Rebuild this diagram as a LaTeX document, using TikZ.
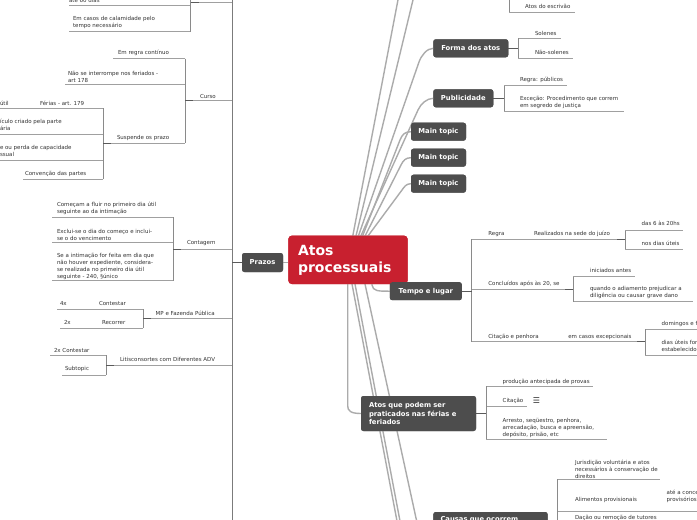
\documentclass[tikz,border=0pt]{standalone}
\usepackage{fontspec}
\setmainfont{DejaVu Sans}
\usetikzlibrary{calc}
\definecolor{boxgray}{HTML}{4D4D4D}
\definecolor{rootred}{HTML}{C8202F}
\definecolor{linegray}{HTML}{ABABAB}
\definecolor{ulgray}{HTML}{A0A0A0}
\definecolor{brkgray}{HTML}{8A8A8A}
\definecolor{darkln}{HTML}{5A5A5A}
\definecolor{txtcol}{HTML}{333333}
\tikzset{
  every node/.style={inner sep=0pt, outer sep=0pt},
  subtxt/.style={anchor=west, align=left, font=\fontsize{5.5}{7}\selectfont, text=txtcol},
  ul/.style={draw=ulgray, line width=0.6pt},
  brk/.style={draw=brkgray, line width=0.6pt},
  conn/.style={draw=darkln, line width=1pt},
  trunk/.style={draw=darkln!80, line width=0.9pt},
  mainln/.style={draw=linegray, line width=1.4pt},
  topic/.style={fill=boxgray, text=white, rounded corners=2.5pt,
    font=\fontsize{6.8}{8.6}\selectfont\bfseries, minimum height=18pt},
  rootbox/.style={fill=rootred, text=white, rounded corners=3.5pt,
    font=\fontsize{14}{17}\selectfont\bfseries, minimum width=119.4pt,
    minimum height=48.3pt, align=left, text width=100pt},
  noteicon/.style={font=\fontsize{8}{8}\selectfont, text=txtcol}
}
\newcommand\mmsub[7]{%
  \node[subtxt] (#1) at (#2,#3) {#4};
  \coordinate (#1-a) at (#5,#7);
  \coordinate (#1-b) at (#6,#7);
  \draw[ul] (#1-a) -- (#1-b);
}
\begin{document}
\begin{tikzpicture}[x=1pt,y=-1pt]
\useasboundingbox (0,0) rectangle (697,520);
\clip (0,0) rectangle (697,520);
\fill[white] (0,0) rectangle (697,520);

% ---------- nodes of the first level (placed first, drawn later on top) ----------
\path (348,259.85) node[rootbox] (root) {Atos\\processuais};
\path (262.5,262.5) node[topic, minimum width=41pt, minimum height=19pt] (prazos) {Prazos};
\path (470.8,48.3) node[topic, minimum width=75pt] (forma) {Forma dos atos};
\path (463.3,98.3) node[topic, minimum width=60pt] (publ) {Publicidade};
\path (438.5,131.7) node[topic, minimum width=55pt] (main1) {Main topic};
\path (438.5,157.7) node[topic, minimum width=55pt] (main2) {Main topic};
\path (438.5,183.7) node[topic, minimum width=55pt] (main3) {Main topic};
\path (425.8,291.2) node[topic, minimum width=72pt] (tempo) {Tempo e lugar};
\path (418.5,413.5) node[topic, minimum width=115pt, minimum height=35pt, text width=99pt, align=left] (atos) {Atos que podem ser\\praticados nas férias e\\feriados};
\path (433.3,512) node[topic, anchor=north west, minimum width=114.4pt, text width=100pt, align=left, text height=5pt, text depth=22pt, inner ysep=4pt] (causas) {Causas que ocorrem};

% ---------- connectors of the first level ----------
\begin{scope}[on background layer/.style={}]
\coordinate (u1s) at (352,240); \coordinate (u1e) at (401.8,-20);
\coordinate (u2s) at (355,240); \coordinate (u2e) at (417.8,-20);
\draw[mainln] (u1s) -- (u1e);
\draw[mainln] (u2s) -- (u2e);
\coordinate (fs) at (357,240); \coordinate (fp) at (419,62);
\draw[mainln] (fs) -- (fp) .. controls (421.3,55.4) and (427,48.3) .. (forma.west);
\coordinate (ps) at (359,240); \coordinate (pp) at (418,110);
\draw[mainln] (ps) -- (pp) .. controls (420.9,103.6) and (427,98.3) .. (publ.west);
\coordinate (m1s) at (361,240); \coordinate (m1p) at (400,140);
\draw[mainln] (m1s) -- (m1p) .. controls (402.2,134.4) and (405,131.7) .. (main1.west);
\coordinate (m2s) at (363,240); \coordinate (m2p) at (401,165);
\draw[mainln] (m2s) -- (m2p) .. controls (403.3,160.5) and (405.5,157.7) .. (main2.west);
\coordinate (m3s) at (365,240); \coordinate (m3p) at (402,190);
\draw[mainln] (m3s) -- (m3p) .. controls (404.4,186.8) and (406,183.7) .. (main3.west);
\coordinate (ts) at (372,278); \coordinate (tp) at (372,285);
\draw[mainln] (ts) -- (tp) .. controls (373,291.2) and (378,291.2) .. (tempo.west);
\coordinate (as) at (347.7,280); \coordinate (ap) at (347.7,406);
\draw[mainln] (as) -- (ap) .. controls (347.7,411) and (351,413.5) .. (atos.west);
\coordinate (das) at (352,284); \coordinate (dae) at (404.4,560);
\coordinate (dbs) at (355,284); \coordinate (dbe) at (407.4,560);
\draw[mainln] (das) -- (dae);
\draw[mainln] (dbs) -- (dbe);
\coordinate (dcs) at (365,284); \coordinate (dcp) at (416,518);
\draw[mainln] (dcs) -- (dcp) .. controls (417.5,526) and (422,529.5) .. (causas.west);
\draw[mainln] (prazos.east) -- (prazos.east -| root.west);
\end{scope}

% ---------- Prazos subtree (left) ----------
\coordinate (trunkTop) at (232,-5);
\coordinate (trunkBot) at (232,525);
\draw[trunk] (trunkTop) -- (trunkBot);
\coordinate (prj) at (232,262.5);
\draw[conn] (prj) -- (prazos.west);

\mmsub{ate}{69}{0}{até 60 dias}{69}{190.7}{5.7}
\mmsub{calam}{73}{22.5}{Em casos de calamidade pelo\\tempo necessário}{69}{190.7}{31.7}
\coordinate (bA1) at (190.7,-5); \coordinate (bA2) at (190.7,31.7);
\draw[brk] (bA1) -- (bA2);
\coordinate (topA) at (190.7,2.7); \coordinate (topB) at (232,2.7);
\draw[ul] (topA) -- (topB);
\draw[conn] (topA) -- ++(8,0);

\mmsub{curso}{200}{96}{Curso}{185}{232}{100.7}
\mmsub{regra}{118}{53}{Em regra contínuo}{113}{185}{58.7}
\mmsub{naoint}{68}{77}{Não se interrompe nos feriados -\\art 178}{65}{185}{84.7}
\mmsub{susp}{117}{137.7}{Suspende os prazo}{103}{185}{143.3}
\draw[brk] (regra-b) -- (susp-b);
\draw[conn] (curso-a) -- ++(8,0);
\mmsub{ferias}{40}{103}{Férias - art. 179}{36}{103}{108}
\mmsub{util}{0}{103}{útil}{0}{36}{108}
\mmsub{obst}{0}{124.5}{ículo criado pela parte\\ária}{0}{103}{134}
\mmsub{morte}{0}{151}{e ou perda de capacidade\\ssual}{0}{103}{160}
\mmsub{conv}{25}{174}{Convenção das partes}{23}{103}{179.3}
\draw[brk] (ferias-b) -- (conv-b);
\draw[conn] (susp-a) -- ++(8,0);

\mmsub{contagem}{187}{243.3}{Contagem}{173}{232}{249.3}
\mmsub{comecam}{57}{208}{Começam a fluir no primeiro dia útil\\seguinte ao da intimação}{52}{173}{217}
\mmsub{exclui}{57}{234.5}{Exclui-se o dia do começo e inclui-\\se o do vencimento}{52}{173}{242.3}
\mmsub{seint}{57}{266.3}{Se a intimação for feita em dia que\\não houver expediente, considera-\\se realizada no primeiro dia útil\\seguinte - 240, §único}{52}{173}{280.7}
\draw[brk] (comecam-b) -- (seint-b);
\draw[conn] (contagem-a) -- ++(8,0);

\mmsub{mp}{155.7}{313.3}{MP e Fazenda Pública}{143}{232}{318.3}
\mmsub{contestar}{99}{303.3}{Contestar}{95}{143}{309}
\mmsub{quatrox}{60}{303.3}{4x}{57}{95}{309}
\mmsub{recorrer}{102}{322.7}{Recorrer}{95}{143}{328.3}
\mmsub{doisx}{64}{322.7}{2x}{60}{95}{328.3}
\draw[brk] (contestar-b) -- (recorrer-b);
\draw[conn] (mp-a) -- ++(8,0);

\mmsub{litis}{120}{359.3}{Litisconsortes com Diferentes ADV}{106}{232}{365}
\mmsub{contest2}{54}{350}{2x Contestar}{50}{106}{355}
\mmsub{subtopic}{65}{369.3}{Subtopic}{62}{106}{375}
\draw[brk] (contest2-b) -- (subtopic-b);
\draw[conn] (litis-a) -- ++(8,0);

% ---------- right side ----------
\mmsub{escrivao}{525}{6}{Atos do escrivão}{509}{575}{12}
\coordinate (bE1) at (509,-5);
\draw[brk] (bE1) -- (escrivao-a);

\mmsub{solenes}{535}{33.3}{Solenes}{518.3}{560.7}{38.3}
\mmsub{naosol}{535}{52.7}{Não-solenes}{518.3}{573.3}{58.3}
\draw[brk] (solenes-a) -- (naosol-a);
\draw[conn] (forma.east) -- (forma.east -| naosol-a);

\mmsub{regrapub}{520}{80}{Regra: públicos}{504}{566.7}{85.7}
\mmsub{excecao}{520}{102.7}{Exceção: Procedimento que correm\\em segredo de justiça}{504}{624.3}{111}
\draw[brk] (regrapub-a) -- (excecao-a);
\draw[conn] (publ.east) -- (publ.east -| excecao-a);

\mmsub{regratl}{488.3}{234}{Regra}{471.7}{528}{239.3}
\mmsub{realiz}{534}{234}{Realizados na sede do juízo}{528}{625}{239.3}
\mmsub{das6}{641.7}{223.3}{das 6 às 20hs}{625}{683.3}{230.7}
\mmsub{nosdias}{641.7}{243.7}{nos dias úteis}{625}{683.3}{249.3}
\draw[brk] (das6-a) -- (nosdias-a);
\mmsub{concl}{488.3}{284}{Concluídos após às 20, se}{471.7}{573.3}{289.3}
\mmsub{inic}{590}{270.7}{iniciados antes}{573.3}{635}{276.7}
\mmsub{quando}{590}{292.7}{quando o adiamento prejudicar a\\diligência ou causar grave dano}{573.3}{693.3}{301.7}
\draw[brk] (inic-a) -- (quando-a);
\mmsub{citpen}{488.3}{337.3}{Citação e penhora}{471.7}{555}{341.7}
\mmsub{emcasos}{568.3}{337.3}{em casos excepcionais}{555}{645}{341.7}
\mmsub{domingos}{661.7}{324}{domingos e feriados}{645}{700}{329.3}
\mmsub{diasuteis}{661.7}{346.3}{dias úteis fora do horário\\estabelecido}{645}{700}{355}
\draw[brk] (domingos-a) -- (diasuteis-a);
\draw[brk] (regratl-a) -- (citpen-a);
\draw[conn] (tempo.east) -- (tempo.east -| regratl-a);
\draw[conn] (realiz-b) -- ++(-8,0);
\draw[conn] (concl-b) -- ++(-8,0);
\draw[conn] (emcasos-b) -- ++(-8,0);

\mmsub{producao}{502.7}{382.3}{produção antecipada de provas}{486}{593.3}{386}
\mmsub{citacao}{502.7}{401}{Citação}{486}{526.7}{406.7}
\node[noteicon] (icon) at (536.5,401) {☰};
\mmsub{arresto}{502.7}{427.7}{Arresto, seqüestro, penhora,\\arrecadação, busca e apreensão,\\depósito, prisão, etc}{486}{606.7}{439.3}
\draw[brk] (producao-a) -- (arresto-a);
\draw[conn] (atos.east) -- (atos.east -| producao-a);

\mmsub{jurisd}{575}{469}{Jurisdição voluntária e atos\\necessários à conservação de\\direitos}{557.7}{660}{479.3}
\mmsub{alim}{575}{500}{Alimentos provisionais}{557.7}{662}{511}
\mmsub{ateconc}{666.7}{496}{até a concessão\\provisórios}{662}{700}{511}
\mmsub{dacao}{575}{518}{Dação ou remoção de tutores}{557.7}{660}{530}
\draw[brk] (jurisd-a) -- (dacao-a);
\draw[conn] (causas.east) -- (causas.east -| dacao-a);

% ---------- boxes on top ----------
\node[rootbox] at (root.center) {Atos\\processuais};
\node[topic, minimum width=41pt, minimum height=19pt] at (prazos.center) {Prazos};
\node[topic, minimum width=75pt] at (forma.center) {Forma dos atos};
\node[topic, minimum width=60pt] at (publ.center) {Publicidade};
\node[topic, minimum width=55pt] at (main1.center) {Main topic};
\node[topic, minimum width=55pt] at (main2.center) {Main topic};
\node[topic, minimum width=55pt] at (main3.center) {Main topic};
\node[topic, minimum width=72pt] at (tempo.center) {Tempo e lugar};
\node[topic, minimum width=115pt, minimum height=35pt, text width=99pt, align=left] at (atos.center) {Atos que podem ser\\praticados nas férias e\\feriados};
\node[topic, anchor=north west, minimum width=114.4pt, text width=100pt, align=left, text height=5pt, text depth=22pt, inner ysep=4pt] at (causas.north west) {Causas que ocorrem};
\end{tikzpicture}
\end{document}
